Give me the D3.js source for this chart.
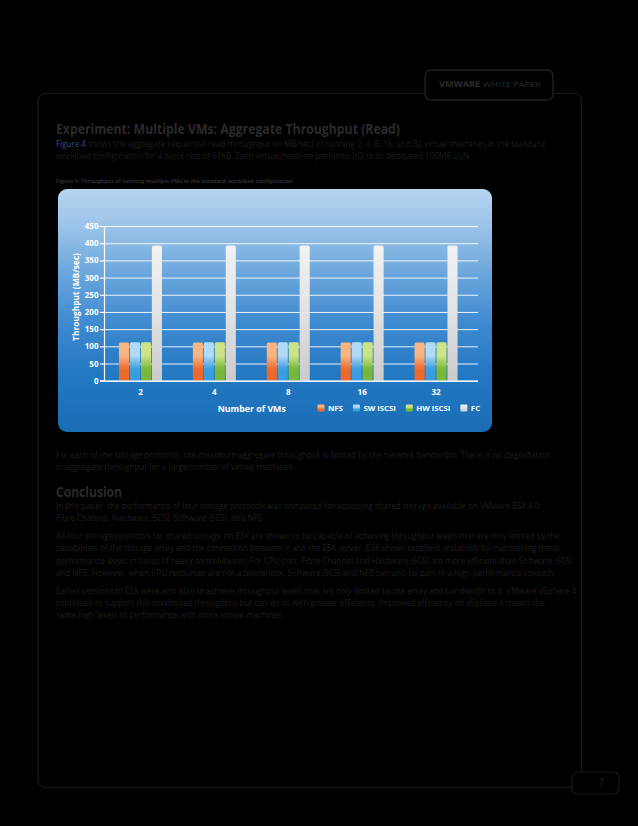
<!DOCTYPE html>
<html>
<head>
<meta charset="utf-8">
<script src="https://cdn.jsdelivr.net/npm/d3@7"></script>
<style>
  html, body { margin: 0; padding: 0; background: #000; }
  svg { display: block; }
</style>
</head>
<body>
<div id="page"></div>
<script>
// Chart data
const categories = ['2', '4', '8', '16', '32'];
const seriesNames = ['NFS', 'SW iSCSI', 'HW iSCSI', 'FC'];
const nfsValues = [111, 111, 111, 111, 111];
const swIscsiValues = [112, 112, 112, 112, 112];
const hwIscsiValues = [112, 112, 112, 112, 112];
const fcValues = [393, 393, 393, 393, 393];
const yTickValues = [0, 50, 100, 150, 200, 250, 300, 350, 400, 450];
const yAxisTitle = 'Throughput (MB/sec)';
const xAxisTitle = 'Number of VMs';

// Page text
const headerBold = 'VMWARE';
const headerRest = ' WHITE PAPER';
const titleText = 'Experiment: Multiple VMs: Aggregate Throughput (Read)';
const introLines = [
  ['Figure 4', ' shows the aggregate sequential read throughput (in MB/sec) of running 2, 4, 8, 16, and 32 virtual machines in the standard'],
  ['', 'workload configuration for a block size of 64KB. Each virtual machine performs I/O to its dedicated 100MB LUN.']
];
const captionText = 'Figure 4. Throughput of running multiple VMs in the standard workload configuration';
const afterLines = [
  'For each of the storage protocols, the maximum aggregate throughput is limited by the network bandwidth. There is no degradation',
  'in aggregate throughput for a large number of virtual machines.'
];
const conclusionTitle = 'Conclusion';
const conclusionParas = [
  ['In this paper, the performance of four storage protocols was compared for accessing shared storage available on VMware ESX 4.0:',
   'Fibre Channel, Hardware iSCSI, Software iSCSI, and NFS.'],
  ['All four storage protocols for shared storage on ESX are shown to be capable of achieving throughput levels that are only limited by the',
   'capabilities of the storage array and the connection between it and the ESX server. ESX shows excellent scalability by maintaining these',
   'performance levels in cases of heavy consolidation. For CPU cost, Fibre Channel and Hardware iSCSI are more efficient than Software iSCSI',
   'and NFS. However, when CPU resources are not a bottleneck, Software iSCSI and NFS can also be part of a high-performance solution.'],
  ['Earlier versions of ESX were also able to achieve throughput levels that are only limited by the array and bandwidth to it.  VMware vSphere 4',
   'continues to support this maximized throughput but can do so with greater efficiency.  Improved efficiency on vSphere 4 means the',
   'same high levels of performance with more virtual machines.']
];
const pageNumber = '7';

// Colours (top, bottom of each bar gradient)
const seriesColors = {
  'NFS': ['#f9b581', '#ee6a2a'],
  'SW iSCSI': ['#b0daf5', '#3b9ce0'],
  'HW iSCSI': ['#cce487', '#77b83a'],
  'FC': ['#f1f1f1', '#c9c9c9']
};

const W = 638, H = 826;
const svg = d3.select('#page').append('svg').attr('width', W).attr('height', H);
svg.append('rect').attr('width', W).attr('height', H).attr('fill', '#000');
const defs = svg.append('defs');

// ---- page frame ----
svg.append('rect')
  .attr('x', 38).attr('y', 93.5).attr('width', 543.5).attr('height', 694)
  .attr('rx', 7).attr('fill', 'none').attr('stroke', '#1a1a1a').attr('stroke-width', 1.2);

svg.append('rect')
  .attr('x', 425).attr('y', 70).attr('width', 128).attr('height', 30).attr('rx', 6)
  .attr('fill', '#000').attr('stroke', '#222222').attr('stroke-width', 1.4);
const header = svg.append('text')
  .attr('x', 439).attr('y', 86.5)
  .attr('font-family', 'Open Sans, sans-serif').attr('font-size', 8)
  .attr('fill', '#2c2c2c').attr('textLength', 102).attr('lengthAdjust', 'spacingAndGlyphs');
header.append('tspan').attr('font-weight', 700).text(headerBold);
header.append('tspan').text(headerRest);

svg.append('rect')
  .attr('x', 572).attr('y', 772).attr('width', 47).attr('height', 22).attr('rx', 6)
  .attr('fill', '#000').attr('stroke', '#1a1a1a').attr('stroke-width', 1.2);
svg.append('text')
  .attr('x', 601).attr('y', 786)
  .attr('font-family', 'Open Sans, sans-serif').attr('font-size', 9).attr('font-style', 'italic')
  .attr('fill', '#262626').attr('text-anchor', 'middle').text(pageNumber);

// ---- page text ----
const textX = 56;
const bodyFont = 'Open Sans, sans-serif';
const bodyColor = '#1f1f1f';
const bodyItems = [];

function bodyLine(parts, y) {
  const t = svg.append('text')
    .attr('x', textX).attr('y', y)
    .attr('font-family', bodyFont).attr('font-size', 8.6).attr('fill', bodyColor);
  if (parts[0]) t.append('tspan').attr('fill', '#2d5289').text(parts[0]);
  t.append('tspan').text(parts[1]);
  bodyItems.push(t);
}

svg.append('text')
  .attr('x', textX).attr('y', 134)
  .attr('font-family', bodyFont).attr('font-size', 14).attr('font-weight', 700)
  .attr('fill', '#2a2a2a').attr('textLength', 344).attr('lengthAdjust', 'spacingAndGlyphs')
  .text(titleText);

introLines.forEach((parts, i) => bodyLine(parts, 146.5 + i * 12));

svg.append('text')
  .attr('x', textX).attr('y', 182.5)
  .attr('font-family', bodyFont).attr('font-size', 5.2).attr('font-weight', 700)
  .attr('fill', '#2e2e2e').attr('textLength', 237).attr('lengthAdjust', 'spacingAndGlyphs')
  .text(captionText);

afterLines.forEach((line, i) => bodyLine(['', line], 458 + i * 12.2));

svg.append('text')
  .attr('x', textX).attr('y', 496.5)
  .attr('font-family', bodyFont).attr('font-size', 14).attr('font-weight', 700)
  .attr('fill', '#2a2a2a').attr('textLength', 66).attr('lengthAdjust', 'spacingAndGlyphs')
  .text(conclusionTitle);

let lineY = 509;
conclusionParas.forEach(para => {
  para.forEach(line => { bodyLine(['', line], lineY); lineY += 12.3; });
  lineY += 5.5;
});

// squeeze the body text so the long lines end where they do in the print
const k = 489 / bodyItems[0].node().getComputedTextLength();
bodyItems.forEach(t => {
  const w = t.node().getComputedTextLength();
  t.attr('textLength', w * k).attr('lengthAdjust', 'spacingAndGlyphs');
});

// ---- chart panel ----
const panelGrad = defs.append('linearGradient').attr('id', 'panelGrad')
  .attr('x1', 0).attr('y1', 0).attr('x2', 0).attr('y2', 1);
[[0, '#b6d4ef'], [0.15, '#9cc4e9'], [0.35, '#6aa6dc'], [0.55, '#3f8ad0'], [0.75, '#2479c3'], [1, '#186db5']]
  .forEach(s => panelGrad.append('stop').attr('offset', s[0]).attr('stop-color', s[1]));

svg.append('rect')
  .attr('x', 58).attr('y', 189).attr('width', 434).attr('height', 243).attr('rx', 9)
  .attr('fill', 'url(#panelGrad)');

// bar gradients
seriesNames.forEach((name, i) => {
  const g = defs.append('linearGradient').attr('id', 'barGrad' + i)
    .attr('x1', 0).attr('y1', 0).attr('x2', 0).attr('y2', 1);
  g.append('stop').attr('offset', 0).attr('stop-color', seriesColors[name][0]);
  g.append('stop').attr('offset', 0.35).attr('stop-color', seriesColors[name][0]);
  g.append('stop').attr('offset', 0.7).attr('stop-color', seriesColors[name][1]);
  g.append('stop').attr('offset', 1).attr('stop-color', seriesColors[name][1]);
});
const fcGrad = defs.select('#barGrad3');
fcGrad.selectAll('stop').remove();
[[0, '#f2f2f2'], [0.5, '#e2e2e2'], [1, '#cbcbcb']]
  .forEach(s => fcGrad.append('stop').attr('offset', s[0]).attr('stop-color', s[1]));

const plotLeft = 104, plotRight = 478;
const y = d3.scaleLinear().domain([0, 450]).range([380.7, 226]);
const x = d3.scaleBand().domain(categories).range([103.5, 473]).padding(0);
const xs = d3.scaleBand().domain(seriesNames).range([-21.5, 21.5]).paddingInner(0.08).paddingOuter(0);

const chart = svg.append('g');
const chartFont = 'Open Sans, sans-serif';

// grid lines
chart.append('g')
  .attr('transform', `translate(${plotLeft},0)`)
  .call(d3.axisLeft(y).tickValues(yTickValues).tickSize(-(plotRight - plotLeft)).tickFormat(''))
  .call(g => g.select('.domain').remove())
  .call(g => g.selectAll('line').attr('stroke', '#ffffff').attr('stroke-width', 1).attr('stroke-opacity', 0.9));

// bars
const seriesValues = [nfsValues, swIscsiValues, hwIscsiValues, fcValues];
const barData = [];
categories.forEach((c, ci) => {
  seriesNames.forEach((s, si) => barData.push({ cat: c, series: s, si: si, value: seriesValues[si][ci] }));
});
chart.append('g').selectAll('path')
  .data(barData)
  .enter()
  .append('path')
  .attr('d', d => {
    const x0 = x(d.cat) + x.bandwidth() / 2 + xs(d.series);
    const w = xs.bandwidth();
    const y0 = y(d.value), y1 = y(0), r = 1.5;
    return `M${x0},${y1}V${y0 + r}Q${x0},${y0} ${x0 + r},${y0}H${x0 + w - r}Q${x0 + w},${y0} ${x0 + w},${y0 + r}V${y1}Z`;
  })
  .attr('fill', d => `url(#barGrad${d.si})`);

// y axis with ticks
chart.append('g')
  .attr('transform', `translate(${plotLeft},0)`)
  .call(d3.axisLeft(y).tickValues(yTickValues).tickSize(4).tickPadding(1.5))
  .call(g => g.select('.domain').attr('stroke', '#ffffff').attr('stroke-width', 1.2))
  .call(g => g.selectAll('line').attr('stroke', '#ffffff').attr('stroke-width', 1.2))
  .call(g => g.selectAll('text')
    .attr('fill', '#ffffff').attr('font-family', chartFont).attr('font-size', 8).attr('font-weight', 700));

// x axis labels
chart.append('g')
  .attr('transform', `translate(0,${y(0)})`)
  .call(d3.axisBottom(x).tickSize(0).tickPadding(8.8))
  .call(g => g.select('.domain').attr('d', `M${plotLeft - 4},0.5H${plotRight}`).attr('stroke', '#ffffff').attr('stroke-width', 1.2))
  .call(g => g.selectAll('text')
    .attr('fill', '#ffffff').attr('font-family', chartFont).attr('font-size', 8).attr('font-weight', 700));

// axis titles
chart.append('text')
  .attr('transform', 'translate(78.5,297) rotate(-90)')
  .attr('text-anchor', 'middle')
  .attr('fill', '#ffffff').attr('font-family', chartFont).attr('font-size', 8.4).attr('font-weight', 700)
  .text(yAxisTitle);

chart.append('text')
  .attr('x', 251.7).attr('y', 411.5)
  .attr('text-anchor', 'middle')
  .attr('fill', '#ffffff').attr('font-family', chartFont).attr('font-size', 8.8).attr('font-weight', 700)
  .text(xAxisTitle);

// legend
const legend = chart.append('g');
let lx = 317.5;
seriesNames.forEach((name, i) => {
  legend.append('rect')
    .attr('x', lx).attr('y', 404.5).attr('width', 7).attr('height', 7).attr('rx', 1)
    .attr('fill', `url(#barGrad${i})`);
  const t = legend.append('text')
    .attr('x', lx + 10.5).attr('y', 411.3)
    .attr('fill', '#ffffff').attr('font-family', chartFont).attr('font-size', 7.8).attr('font-weight', 700)
    .text(name);
  lx += 10.5 + t.node().getComputedTextLength() + 10;
});
</script>
</body>
</html>
